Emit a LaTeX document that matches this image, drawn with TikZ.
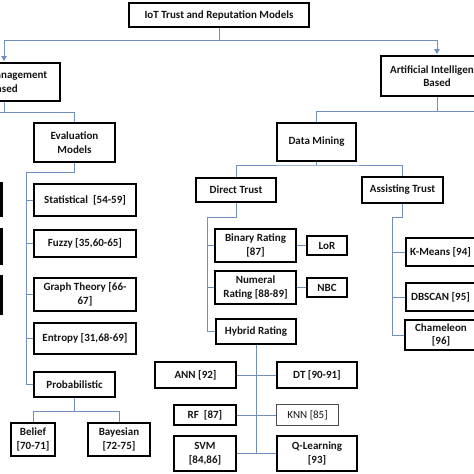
\documentclass[tikz,border=0pt]{standalone}
\usepackage{fontspec}
\setmainfont{Carlito}
\usetikzlibrary{arrows.meta}
\definecolor{conncol}{RGB}{112,142,190}
\definecolor{boxtext}{RGB}{20,20,20}
\tikzset{
  box/.style={draw=black, line width=2.4pt, inner sep=0pt, align=center,
    font=\fontsize{11}{13.5}\selectfont\bfseries, text=boxtext},
  thinbox/.style={box, line width=0.9pt, draw=black!70,
    font=\fontsize{11}{13.5}\selectfont},
  conn/.style={draw=conncol, line width=0.9pt},
  arr/.style={conn, -{Triangle[width=5.5pt,length=5pt]}, shorten >=1pt},
}
\newcommand\bx[7][]{\node[box,#1,minimum width=#5pt,minimum height=#6pt] (#2) at (#3,#4) {#7};}
\begin{document}
\begin{tikzpicture}[x=1pt,y=-1pt]
\useasboundingbox (0,0) rectangle (474,474);
\clip (0,0) rectangle (474,474);
% boxes
\bx{top}{219}{15}{179.5}{23.5}{IoT Trust and Reputation Models}
\bx{tm}{4}{82}{111.5}{37.5}{Trust Management\\Based}
\bx{ai}{437}{76}{111.5}{39.5}{Artificial Intelligence\\Based}
\bx{lbA}{-28}{199.5}{59}{32.5}{}
\bx{lbB}{-28}{246.5}{59}{34.5}{}
\bx{lbC}{-28}{295}{59}{37.5}{}
\bx{eval}{74.5}{142.5}{80.5}{38.5}{Evaluation\\Models}
\bx{stat}{85}{200}{101.5}{31.5}{Statistical~ [54-59]}
\bx{fuzzy}{85}{243.5}{101.5}{26.5}{Fuzzy [35,60-65]}
\bx{graph}{85}{294.5}{101.5}{32.5}{Graph Theory [66-\\67]}
\bx{entropy}{85}{338.5}{101.5}{30.5}{Entropy [31,68-69]}
\bx{prob}{74.5}{384.5}{80.5}{24.5}{Probabilistic}
\bx{belief}{33}{439.5}{43.5}{32.5}{Belief\\{[70-71]}}
\bx{bayes}{119}{439.5}{61.5}{32.5}{Bayesian\\{[72-75]}}
\bx{dm}{316.5}{142}{78.5}{37.5}{Data Mining}
\bx{direct}{236}{190}{79.5}{23.5}{Direct Trust}
\bx{assist}{402.5}{190}{80.5}{25.5}{Assisting Trust}
\bx{binary}{255.5}{245.5}{80.5}{32.5}{Binary Rating\\{[87]}}
\bx{numeral}{255.5}{287.5}{80.5}{32.5}{Numeral\\Rating [88-89]}
\bx{hybrid}{256}{331.5}{79.5}{24.5}{Hybrid Rating}
\bx{lor}{327}{245.5}{39.5}{19.5}{LoR}
\bx{nbc}{327}{287.5}{39.5}{18.5}{NBC}
\bx{kmeans}{440.5}{252}{68.5}{27.5}{K-Means [94]}
\bx{dbscan}{440.5}{297}{68.5}{27.5}{DBSCAN [95]}
\bx{cham}{441}{335}{71.5}{29.5}{Chameleon\\{[96]}}
\bx{ann}{195.5}{375}{80.5}{25.5}{ANN [92]}
\bx{dt}{317}{375}{79.5}{25.5}{DT [90-91]}
\bx{rf}{205}{415}{61.5}{19.5}{RF~ [87]}
\bx[thinbox]{knn}{307.5}{415}{62}{21}{KNN [85]}
\bx{svm}{205}{453.5}{61.5}{34.5}{SVM\\{[84,86]}}
\bx{ql}{317}{453.5}{79.5}{34.5}{Q-Learning\\{[93]}}
% junctions
\coordinate (j1) at (219,40);
\coordinate (j2) at (4,112);
\coordinate (j2l) at (-40,112);
\coordinate (j3) at (437,111);
\coordinate (j3r) at (520,111);
\coordinate (ev) at (26,172);
\coordinate (pj) at (74.5,411);
\coordinate (dmj) at (316.5,165);
\coordinate (drj) at (207,217);
\coordinate (asj) at (392,217);
\coordinate (hyb) at (256,453.5);
% connectors
\draw[conn] (top) -- (j1);
\draw[arr] (j1) -| (tm);
\draw[arr] (j1) -| (ai);
\draw[conn] (tm) -- (j2) -| (eval);
\draw[conn] (j2) -- (j2l);
\draw[conn] (ai) -- (j3) -| (dm);
\draw[conn] (j3) -- (j3r);
\draw[conn] (eval) |- (ev) |- (prob);
\draw[conn] (ev |- stat) -- (stat);
\draw[conn] (ev |- fuzzy) -- (fuzzy);
\draw[conn] (ev |- graph) -- (graph);
\draw[conn] (ev |- entropy) -- (entropy);
\draw[conn] (prob) -- (pj);
\draw[conn] (belief) -- (belief |- pj) -- (bayes |- pj) -- (bayes);
\draw[conn] (dm) -- (dmj);
\draw[conn] (direct) |- (dmj) -| (assist);
\draw[conn] (direct) |- (drj) |- (hybrid);
\draw[conn] (drj |- binary) -- (binary);
\draw[conn] (drj |- numeral) -- (numeral);
\draw[conn] (binary) -- (lor);
\draw[conn] (numeral) -- (nbc);
\draw[conn] (assist) |- (asj) |- (cham);
\draw[conn] (asj |- kmeans) -- (kmeans);
\draw[conn] (asj |- dbscan) -- (dbscan);
\draw[conn] (hybrid) -- (hyb);
\draw[conn] (ann) -- (dt);
\draw[conn] (rf) -- (knn);
\draw[conn] (svm) -- (ql);
\end{tikzpicture}
\end{document}
